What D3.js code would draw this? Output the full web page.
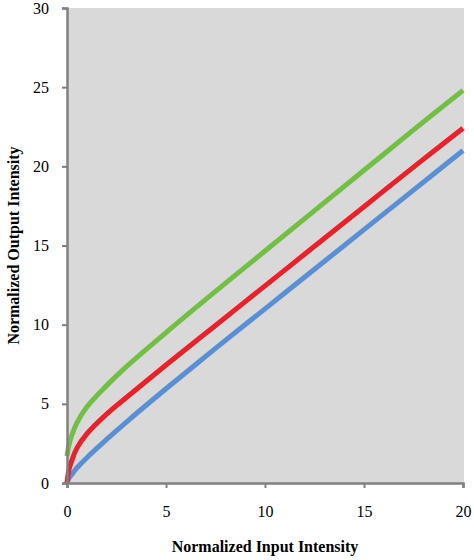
<!DOCTYPE html>
<html>
<head>
<meta charset="utf-8">
<script src="https://cdn.jsdelivr.net/npm/d3@7"></script>
<style>
  body { margin: 0; background: #fff; }
  svg text { font-family: "Liberation Serif", "Times New Roman", serif; fill: #000; }
</style>
</head>
<body>
<svg id="chart" width="474" height="560"></svg>
<script>
// input intensity (x) samples
const inputX = [0, 0.1, 0.25, 0.5, 1, 2, 3, 5, 7.5, 10, 12.5, 15, 17.5, 20];
// output intensity for each curve
const greenY = [1.7, 2.4, 3.05, 3.8, 4.8, 6.15, 7.35, 9.5, 12.1, 14.65, 17.2, 19.75, 22.3, 24.8];
const redY   = [0, 0.85, 1.45, 2.2, 3.1, 4.35, 5.4, 7.45, 9.95, 12.45, 14.95, 17.45, 19.95, 22.4];
const blueY  = [0, 0.3, 0.55, 0.95, 1.6, 2.75, 3.85, 5.95, 8.5, 11.0, 13.5, 16.0, 18.5, 21.0];
const xTicks = [0, 5, 10, 15, 20];
const yTicks = [0, 5, 10, 15, 20, 25, 30];

const series = [
    { name: "blue", values: blueY, color: "#5b8fd3" },
    { name: "red", values: redY, color: "#e8212b" },
    { name: "green", values: greenY, color: "#73bf45" }
];

const svg = d3.select("#chart");
const margin = { top: 8, right: 10, bottom: 77, left: 67 },
      width = +svg.attr("width") - margin.left - margin.right,
      height = +svg.attr("height") - margin.top - margin.bottom;

const g = svg.append("g").attr("transform", `translate(${margin.left},${margin.top})`);

const x = d3.scaleLinear().domain([0, 20]).range([0, 396]);
const y = d3.scaleLinear().domain([0, 30]).range([height, 0]);

// fons gris
g.append("rect")
 .attr("x", 0).attr("y", 0)
 .attr("width", x(20) + 1).attr("height", height)
 .attr("fill", "#d9d9d9");

// corbes
const line = d3.line()
    .x((d, i) => x(inputX[i]))
    .y(d => y(d))
    .curve(d3.curveCatmullRom.alpha(0.5));

series.forEach(s => {
    g.append("path")
     .datum(s.values)
     .attr("fill", "none")
     .attr("stroke", s.color)
     .attr("stroke-width", 5)
     .attr("d", line);
});

// eixos
const xAxis = g.append("g")
 .attr("transform", `translate(0,${height})`)
 .call(d3.axisBottom(x).tickValues(xTicks).tickSize(5).tickPadding(18).tickFormat(d3.format("d")));

const yAxis = g.append("g")
 .call(d3.axisLeft(y).tickValues(yTicks).tickSize(5).tickPadding(13).tickFormat(d3.format("d")));

[xAxis, yAxis].forEach(a => {
    a.select(".domain").attr("stroke", "#808080").attr("stroke-width", 2.5);
    a.selectAll(".tick line").attr("stroke", "#808080").attr("stroke-width", 2);
    a.selectAll("text")
     .style("font-family", "'Liberation Serif', 'Times New Roman', serif")
     .style("font-size", "16px")
     .attr("fill", "#000");
});

// títols dels eixos
svg.append("text")
   .attr("x", margin.left + x(10))
   .attr("y", 552)
   .attr("text-anchor", "middle")
   .style("font-size", "16px")
   .style("font-weight", "bold")
   .text("Normalized Input Intensity");

svg.append("text")
   .attr("transform", "rotate(-90)")
   .attr("x", -(margin.top + height / 2))
   .attr("y", 19)
   .attr("text-anchor", "middle")
   .style("font-size", "16px")
   .style("font-weight", "bold")
   .text("Normalized Output Intensity");
</script>
</body>
</html>
